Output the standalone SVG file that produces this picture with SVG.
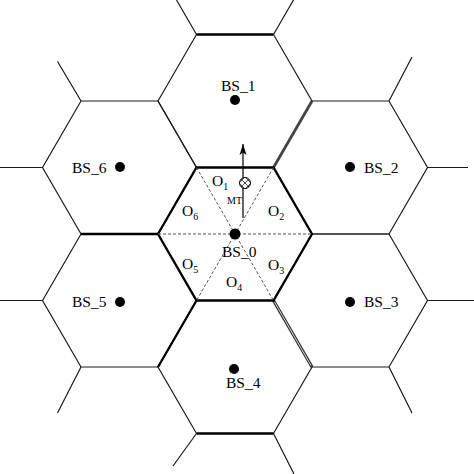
<svg xmlns="http://www.w3.org/2000/svg" width="474" height="474" viewBox="0 0 474 474">
<style>
.e{fill:none;stroke:#1a1a1a;stroke-width:1.2;stroke-linejoin:miter}
.t{fill:none;stroke:#000;stroke-width:2.3}
.d{fill:none;stroke:#555;stroke-width:1;stroke-dasharray:3 2}
.lb{font-family:"Liberation Serif","Times New Roman",serif;font-size:15.5px;fill:#000}
.sb{font-size:10px}
.mt{font-family:"Liberation Serif","Times New Roman",serif;font-size:10px;fill:#000}
.dot{fill:#000}
</style>
<defs>
<marker id="ah" markerWidth="12" markerHeight="8" refX="11" refY="4" orient="auto" markerUnits="userSpaceOnUse" viewBox="0 0 12 8">
<path d="M11,4 L0,0.5 L2.5,4 L0,7.5 Z" fill="#000"/>
</marker>
<clipPath id="cc"><circle cx="245" cy="183" r="5.5"/></clipPath>
</defs>
<rect width="474" height="474" fill="#fff"/>
<g id="connectors">
<polygon class="e" points="158,101 196.5,34.5 273.5,34.5 312,101 273.5,167.5 196.5,167.5"/>
<polygon class="e" points="158,367 196.5,300.5 273.5,300.5 312,367 273.5,433.5 196.5,433.5"/>
<polygon class="e" points="273.5,167.5 312,101 389,101 427.5,167.5 389,234 312,234"/>
<polygon class="e" points="273.5,300.5 312,234 389,234 427.5,300.5 389,367 312,367"/>
<polygon class="e" points="42.5,167.5 81,101 158,101 196.5,167.5 158,234 81,234"/>
<polygon class="e" points="42.5,300.5 81,234 158,234 196.5,300.5 158,367 81,367"/>
<path class="e" d="M81,101 L57.5,61.5 M196.5,34.5 L176.5,0 M273.5,34.5 L293.5,0 M389,101 L412,57 M427.5,167.5 L468,167.5 M427.5,300.5 L474,300.5 M389,367 L412,413 M273.5,433.5 L294,474 M196.5,433.5 L173,466 M81,367 L57.5,413 M42.5,300.5 L0,300.5 M42.5,167.5 L0,167.5"/>
<path class="t" d="M196.5,34.5 L273.5,34.5 M196.5,433.5 L273.5,433.5 M158,367 L196.5,300.5 M81,234 L158,234"/>
<path fill="none" stroke="#444" stroke-width="2.8" d="M273.5,167.5 L312,101"/>
<path fill="none" stroke="#333" stroke-width="3.2" d="M273.5,300.5 L312,367"/>
<path fill="none" stroke="#fff" stroke-width="0.8" d="M274.5,302 L311,365.5"/>
<polygon class="t" points="158,234 196.5,167.5 273.5,167.5 312,234 273.5,300.5 196.5,300.5"/>
<path class="d" d="M158,234 L312,234 M196.5,167.5 L273.5,300.5 M273.5,167.5 L196.5,300.5"/>
<line x1="243" y1="218" x2="243" y2="144" stroke="#000" stroke-width="1.2" marker-end="url(#ah)"/>
</g>
<g id="MT">
<circle cx="245" cy="183" r="5.5" fill="#fff" stroke="#000" stroke-width="1"/>
<g clip-path="url(#cc)" stroke="#000" stroke-width="0.7">
<path d="M233,183 L245,171 M236,186 L248,174 M239,189 L251,177 M242,192 L254,180 M245,195 L257,183"/>
<path d="M233,183 L245,195 M236,180 L248,192 M239,177 L251,189 M242,174 L254,186 M245,171 L257,183"/>
</g>
<text class="mt" x="227" y="204">MT</text>
</g>
<g id="BS_0"><circle class="dot" cx="235" cy="234" r="5.5"/><text class="lb" x="222" y="257">BS_0</text></g>
<g id="BS_1"><circle class="dot" cx="235" cy="100" r="5"/><text class="lb" x="221" y="91">BS_1</text></g>
<g id="BS_2"><circle class="dot" cx="350" cy="167" r="5"/><text class="lb" x="364" y="173">BS_2</text></g>
<g id="BS_3"><circle class="dot" cx="350" cy="302" r="5"/><text class="lb" x="364" y="307">BS_3</text></g>
<g id="BS_4"><circle class="dot" cx="234" cy="369" r="5"/><text class="lb" x="226" y="388">BS_4</text></g>
<g id="BS_5"><circle class="dot" cx="120" cy="302" r="5"/><text class="lb" x="72" y="307">BS_5</text></g>
<g id="BS_6"><circle class="dot" cx="120" cy="167" r="5"/><text class="lb" x="72" y="173">BS_6</text></g>
<g id="sectors">
<text class="lb" x="212" y="186">O<tspan class="sb" dy="4">1</tspan></text>
<text class="lb" x="268" y="216">O<tspan class="sb" dy="4">2</tspan></text>
<text class="lb" x="268" y="270">O<tspan class="sb" dy="4">3</tspan></text>
<text class="lb" x="226" y="287">O<tspan class="sb" dy="4">4</tspan></text>
<text class="lb" x="182" y="269">O<tspan class="sb" dy="4">5</tspan></text>
<text class="lb" x="182" y="216">O<tspan class="sb" dy="4">6</tspan></text>
</g>
</svg>
